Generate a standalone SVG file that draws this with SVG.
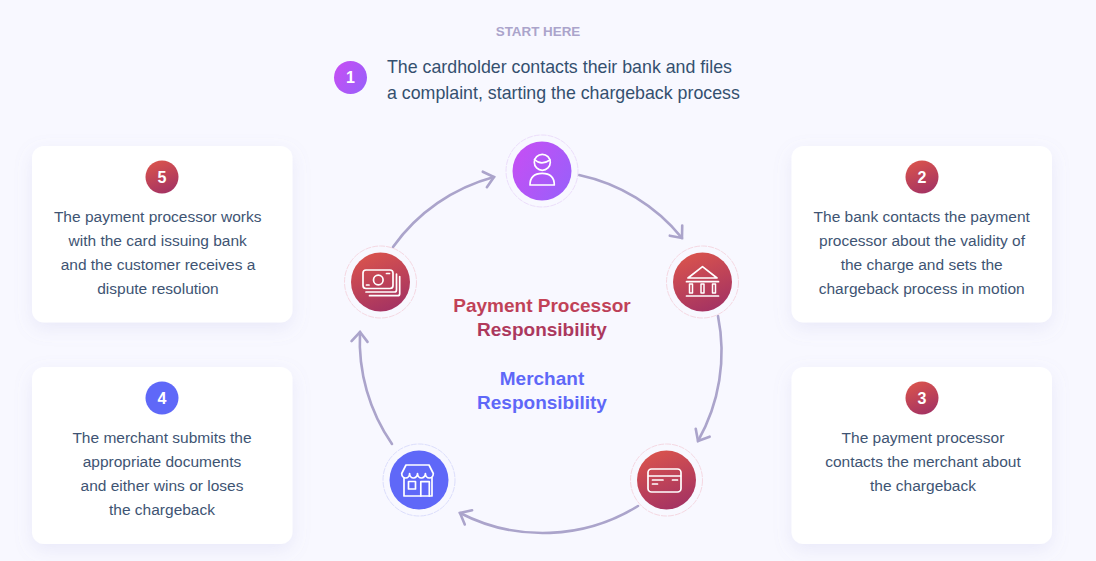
<svg xmlns="http://www.w3.org/2000/svg" width="1096" height="561" viewBox="0 0 1096 561">
<style>
text{font-family:"Liberation Sans",Arial,sans-serif}
.body{font-size:15.500px;fill:#3e5473;text-anchor:middle}
.lead{font-size:17.800px;fill:#34506f}
.num{font-size:16px;font-weight:700;fill:#fff;text-anchor:middle}
.center{font-size:19px;font-weight:700;text-anchor:middle}
.card{fill:#fff;filter:url(#sh)}
.arc{fill:none;stroke:#aba4cb;stroke-width:2.600;stroke-linecap:round}
.ico{fill:none;stroke:#fff;stroke-width:1.700;stroke-linecap:round;stroke-linejoin:round}
.ringr{fill:none;stroke:#f5d8e2;stroke-width:1;stroke-dasharray:6 1}
.ringp{fill:none;stroke:#ecdefb;stroke-width:1;stroke-dasharray:6 1}
.ringb{fill:none;stroke:#dcdefc;stroke-width:1;stroke-dasharray:6 1}
</style>
<defs>
<linearGradient id="red" x1="0.3" y1="0" x2="0.7" y2="1"><stop offset="0" stop-color="#d9534d"/><stop offset="1" stop-color="#a33263"/></linearGradient>
<linearGradient id="pur" x1="0" y1="0.2" x2="1" y2="0.8"><stop offset="0" stop-color="#c54ff4"/><stop offset="1" stop-color="#9a5ffa"/></linearGradient>
<linearGradient id="redt" gradientUnits="userSpaceOnUse" x1="542" y1="295" x2="542" y2="340"><stop offset="0" stop-color="#c94555"/><stop offset="1" stop-color="#a5355f"/></linearGradient>
<filter id="sh" x="-15%" y="-20%" width="130%" height="145%"><feDropShadow dx="0" dy="6" stdDeviation="9" flood-color="#8f8fd0" flood-opacity="0.14"/></filter>
<marker id="ah" markerUnits="userSpaceOnUse" markerWidth="24" markerHeight="24" refX="12" refY="12" orient="auto" overflow="visible"><path d="M2.500 4 L12 12 L2.500 20" fill="none" stroke="#aba4cb" stroke-width="2.600" stroke-linecap="round" stroke-linejoin="miter"/></marker>
</defs>
<rect width="1096" height="561" fill="#f8f8ff"/>
<g id="header">
<text x="538" y="36" font-size="13.400" font-weight="700" fill="#aba4cb" text-anchor="middle">START HERE</text>
<circle cx="350.500" cy="77.500" r="16.500" fill="url(#pur)"/>
<text class="num" x="350.500" y="83">1</text>
<text class="lead" x="387" y="73">The cardholder contacts their bank and files</text>
<text class="lead" x="387" y="99">a complaint, starting the chargeback process</text>
</g>
<g id="connectors">
<path class="arc" marker-end="url(#ah)" d="M579 175 A181 181 0 0 1 682 238"/>
<path class="arc" marker-end="url(#ah)" d="M718 316 A181 181 0 0 1 698 441"/>
<path class="arc" marker-end="url(#ah)" d="M638 506 A181 181 0 0 1 460 513"/>
<path class="arc" marker-end="url(#ah)" d="M392 444 A181 181 0 0 1 360 332"/>
<path class="arc" marker-end="url(#ah)" d="M393 247 A181 181 0 0 1 494 177"/>
</g>
<g id="center-label">
<text class="center" x="542" y="312" fill="url(#redt)">Payment Processor</text>
<text class="center" x="542" y="336" fill="url(#redt)">Responsibility</text>
<text class="center" x="542" y="385" fill="#5f68f8">Merchant</text>
<text class="center" x="542" y="409" fill="#5f68f8">Responsibility</text>
</g>
<g id="node-cardholder">
<circle class="ringp" cx="542" cy="171" r="36"/>
<circle cx="542" cy="171" r="29.500" fill="url(#pur)"/>
<g class="ico"><circle cx="542.300" cy="162.300" r="8"/><path d="M534.500 159.500 Q541 166 550 160"/><path d="M530 185 H554.300 Q554.300 173.300 542.200 173.300 Q530 173.300 530 185Z"/></g>
</g>
<g id="node-bank">
<circle class="ringr" cx="702.500" cy="282" r="36"/>
<circle cx="702.500" cy="282" r="29.500" fill="url(#red)"/>
<g class="ico"><path d="M688 278 L702.500 266.700 L717 278 Z"/><path d="M686.500 281.700 H718.500"/><path d="M689.500 284 H692.500 V293 H689.500Z M701 284 H704 V293 H701Z M712.500 284 H715.500 V293 H712.500Z" stroke-width="1.500"/><path d="M686.500 296 H718.500"/></g>
</g>
<g id="node-card">
<circle class="ringr" cx="666.500" cy="480" r="36"/>
<circle cx="666.500" cy="480" r="29.500" fill="url(#red)"/>
<g class="ico"><rect x="648" y="469" width="33" height="23" rx="3.500"/><path d="M648.500 476 H680.500"/><path d="M652.500 480 H663 M652.500 484 H657.500 M672.500 480 H677.500"/></g>
</g>
<g id="node-store">
<circle class="ringb" cx="419" cy="480" r="36"/>
<circle cx="419" cy="480" r="29.500" fill="#5f68f8"/>
<g class="ico"><path d="M406 465 H429 L433.300 473.500 A3.950 4.500 0 0 1 425.400 473.500 A3.950 4.500 0 0 1 417.500 473.500 A3.950 4.500 0 0 1 409.600 473.500 A3.950 4.500 0 0 1 401.700 473.500 Z"/><path d="M404 477.500 V496 H432 V477.500"/><rect x="408.500" y="481.500" width="7" height="7.500"/><path d="M420.800 496 V481.700 H429.300 V496"/></g>
</g>
<g id="node-money">
<circle class="ringr" cx="380.500" cy="282" r="36"/>
<circle cx="380.500" cy="282" r="29.500" fill="url(#red)"/>
<g class="ico"><rect x="363" y="270" width="30" height="18.500" rx="3"/><circle cx="378.300" cy="280" r="4.800"/><path d="M366.500 285 H369 M386.500 273.500 H389.500"/><path d="M396.500 274 V290 Q396.500 292 394.500 292 H366"/><path d="M399.700 276.500 V293.700 Q399.700 295.700 397.700 295.700 H369.500"/></g>
</g>
<g id="card-5">
<rect class="card" x="32" y="146" width="260.500" height="176.500" rx="12"/>
<circle cx="162" cy="177" r="16.500" fill="url(#red)"/>
<text class="num" x="162" y="183">5</text>
<text class="body" x="157.700" y="222">The payment processor works</text>
<text class="body" x="157.700" y="246">with the card issuing bank</text>
<text class="body" x="158" y="270">and the customer receives a</text>
<text class="body" x="158" y="294">dispute resolution</text>
</g>
<g id="card-4">
<rect class="card" x="32" y="367" width="260.500" height="177" rx="12"/>
<circle cx="162" cy="398" r="16.500" fill="#5f68f8"/>
<text class="num" x="162" y="404">4</text>
<text class="body" x="162" y="443">The merchant submits the</text>
<text class="body" x="162" y="467">appropriate documents</text>
<text class="body" x="162" y="491">and either wins or loses</text>
<text class="body" x="162" y="515">the chargeback</text>
</g>
<g id="card-2">
<rect class="card" x="791.500" y="146" width="260.500" height="176.500" rx="12"/>
<circle cx="922" cy="177" r="16.500" fill="url(#red)"/>
<text class="num" x="922" y="183">2</text>
<text class="body" x="921.700" y="222">The bank contacts the payment</text>
<text class="body" x="922" y="246">processor about the validity of</text>
<text class="body" x="921.700" y="270">the charge and sets the</text>
<text class="body" x="921.700" y="294">chargeback process in motion</text>
</g>
<g id="card-3">
<rect class="card" x="791.500" y="367" width="260.500" height="177" rx="12"/>
<circle cx="922" cy="398" r="16.500" fill="url(#red)"/>
<text class="num" x="922" y="404">3</text>
<text class="body" x="923" y="443">The payment processor</text>
<text class="body" x="923" y="467">contacts the merchant about</text>
<text class="body" x="923" y="491">the chargeback</text>
</g>
</svg>
